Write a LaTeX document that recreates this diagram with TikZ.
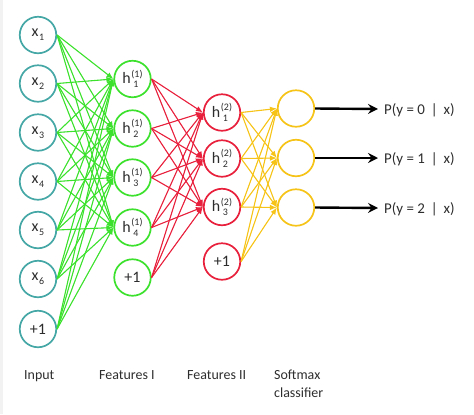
\documentclass[tikz,border=0pt]{standalone}
\usepackage{fontspec}
\setmainfont{Carlito}
\usetikzlibrary{arrows.meta}
\definecolor{cin}{RGB}{70,168,166}
\definecolor{cg}{RGB}{60,225,45}
\definecolor{cr}{RGB}{232,32,60}
\definecolor{cy}{RGB}{246,196,24}
\definecolor{ct}{RGB}{45,45,45}
\newcommand{\sml}{\fontsize{10}{10}\selectfont}
\newcommand{\hlab}[2]{h\kern.6pt\makebox[0pt][l]{\raisebox{-.55ex}{\sml\kern2pt#2}}\raisebox{.85ex}{\sml(#1)}}
\newcommand{\xlab}[1]{x\kern.6pt\raisebox{-.55ex}{\sml#1}}
\tikzset{
  neuron/.style={circle, line width=1.7bp, minimum size=36.5bp, inner sep=0pt, fill=white,
    font=\fontsize{16}{16}\selectfont, text=ct},
  inneuron/.style={neuron, draw=cin},
  gneuron/.style={neuron, draw=cg},
  rneuron/.style={neuron, draw=cr},
  yneuron/.style={neuron, draw=cy},
  edgebase/.style={line width=1.1bp, -{Latex[length=7bp,width=5.5bp]}},
  gedge/.style={edgebase, draw=cg, fill=cg},
  redge/.style={edgebase, draw=cr, fill=cr},
  yedge/.style={edgebase, draw=cy, fill=cy},
  outarrow/.style={line width=2.4bp, draw=black, -{Stealth[length=10bp,width=10bp,inset=3.5bp]}},
  plab/.style={anchor=base west, inner sep=0pt, text=ct, font=\fontsize{15}{15}\selectfont},
  blab/.style={anchor=base west, inner sep=0pt, text=ct, font=\fontsize{14}{14}\selectfont}
}
\begin{document}
\begin{tikzpicture}[x=1bp,y=-1bp]
\useasboundingbox (0,0) rectangle (474,414);
\fill[gray!10] (0,0) rectangle (2.5,414);
% input layer
\node[inneuron] (i1) at (38,35) {\xlab{1}};
\node[inneuron] (i2) at (38,83.5) {\xlab{2}};
\node[inneuron] (i3) at (38,132.5) {\xlab{3}};
\node[inneuron] (i4) at (38,181.5) {\xlab{4}};
\node[inneuron] (i5) at (38,230) {\xlab{5}};
\node[inneuron] (i6) at (38,279) {\xlab{6}};
\node[inneuron] (i7) at (38,329) {+1};
% features I
\node[gneuron] (a1) at (132.5,79) {\hlab{1}{1}};
\node[gneuron] (a2) at (132.5,128.5) {\hlab{1}{2}};
\node[gneuron] (a3) at (132.5,177.5) {\hlab{1}{3}};
\node[gneuron] (a4) at (132.5,227.5) {\hlab{1}{4}};
\node[gneuron] (a5) at (132.5,277.5) {+1};
% features II
\node[rneuron] (b1) at (222,112.5) {\hlab{2}{1}};
\node[rneuron] (b2) at (222,158.5) {\hlab{2}{2}};
\node[rneuron] (b3) at (222,207) {\hlab{2}{3}};
\node[rneuron] (b4) at (222,261.5) {+1};
% softmax
\node[yneuron] (s1) at (296,108.5) {};
\node[yneuron] (s2) at (296,158) {};
\node[yneuron] (s3) at (296,207.5) {};
% edges
\foreach \i in {1,...,7}{\foreach \j in {1,...,4}{\draw[gedge] (i\i.east) -- (a\j.west);}}
\foreach \i in {1,...,5}{\foreach \j in {1,...,3}{\draw[redge] (a\i.east) -- (b\j.west);}}
\foreach \i in {1,...,4}{\foreach \j in {1,...,3}{\draw[yedge] (b\i.east) -- (s\j.west);}}
% outputs
\coordinate (e1) at (378,109);
\coordinate (e2) at (378,158);
\coordinate (e3) at (378,208);
\draw[outarrow] (s1.east) -- (e1);
\draw[outarrow] (s2.east) -- (e2);
\draw[outarrow] (s3.east) -- (e3);
\node[plab] (p1) at (384,114) {P(y = 0 \,|\, x)};
\node[plab] (p2) at (384,163) {P(y = 1 \,|\, x)};
\node[plab] (p3) at (384,213) {P(y = 2 \,|\, x)};
% layer labels
\node[blab] (l1) at (24,379) {Input};
\node[blab] (l2) at (99,379) {Features I};
\node[blab] (l3) at (187,379) {Features II};
\node[blab] (l4) at (274,379.5) {Softmax};
\node[blab] (l5) at (274,397) {classifier};
\end{tikzpicture}
\end{document}
